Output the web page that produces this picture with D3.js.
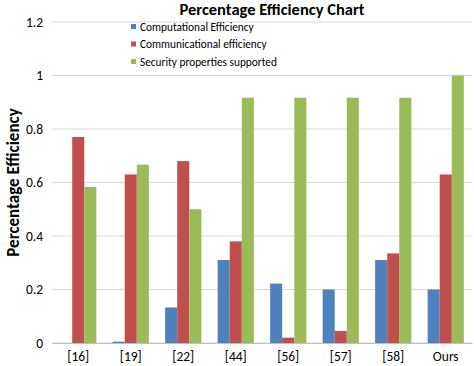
<!DOCTYPE html>
<html><head><meta charset="utf-8">
<script src="https://cdn.jsdelivr.net/npm/d3@7"></script>
<style>body{margin:0;background:#fff}svg{display:block;font-family:Calibri,Carlito,"Open Sans",sans-serif}</style>
</head><body><svg id="c" width="474" height="366"></svg>
<script>
const categories = ["[16]","[19]","[22]","[44]","[56]","[57]","[58]","Ours"];
const seriesNames = ["Computational Efficiency","Communicational efficiency","Security properties supported"];
const computational = [0, 0.005, 0.133, 0.31, 0.222, 0.2, 0.31, 0.2];
const communicational = [0.77, 0.63, 0.68, 0.38, 0.02, 0.045, 0.335, 0.63];
const security = [0.583, 0.667, 0.5, 0.917, 0.917, 0.917, 0.917, 1.0];
const yTicks = [0, 0.2, 0.4, 0.6, 0.8, 1, 1.2];
const colors = ["#4F81BD", "#C0504D", "#9BBB59"];
const seriesValues = [computational, communicational, security];

const svg = d3.select("#c");
const m = {l:52, r:2, t:22, b:23};
const W = 474, H = 366;
const x = d3.scaleBand().domain(categories).range([m.l, W - m.r]).paddingInner(0.31).paddingOuter(0.155);
const xs = d3.scaleBand().domain(d3.range(3)).range([0, x.bandwidth()]);
const y = d3.scaleLinear().domain([0, 1.2]).range([H - m.b, m.t]);

svg.append("g").selectAll("line").data(yTicks).join("line")
  .attr("x1", m.l).attr("x2", W - m.r)
  .attr("y1", d => y(d)).attr("y2", d => y(d))
  .attr("stroke", "#d9d9d9").attr("stroke-width", 1);

const ya = svg.append("g").attr("transform", `translate(${m.l},0)`)
  .call(d3.axisLeft(y).tickValues(yTicks).tickSize(0).tickPadding(9).tickFormat(d => d3.format("")(d)));
ya.select(".domain").remove();
ya.selectAll("text").attr("font-size", 13.5).attr("fill", "#000").attr("font-family", "Calibri,Carlito,'Open Sans',sans-serif");

const groups = svg.append("g").selectAll("g").data(categories).join("g")
  .attr("transform", d => `translate(${x(d)},0)`);
groups.selectAll("rect").data((d, i) => seriesValues.map((s, k) => ({k, v: s[i]}))).join("rect")
  .attr("x", d => xs(d.k)).attr("width", xs.bandwidth())
  .attr("y", d => y(d.v)).attr("height", d => y(0) - y(d.v))
  .attr("fill", d => colors[d.k]);

const xa = svg.append("g").attr("transform", `translate(0,${y(0)})`)
  .call(d3.axisBottom(x).tickSize(0).tickPadding(8));
xa.select(".domain").attr("stroke", "#bfbfbf");
xa.selectAll("text").attr("font-size", 13.5).attr("fill", "#000").attr("font-family", "Calibri,Carlito,'Open Sans',sans-serif");

svg.append("text").attr("x", 272).attr("y", 15).attr("text-anchor", "middle")
  .attr("font-size", 16.5).attr("font-weight", "bold").text("Percentage Efficiency Chart");

svg.append("text").attr("transform", `translate(19,${(y(0)+y(1.2))/2}) rotate(-90)`)
  .attr("text-anchor", "middle").attr("font-size", 17).attr("font-weight", "bold").text("Percentage Efficiency");

const lg = svg.append("g").selectAll("g").data(seriesNames).join("g")
  .attr("transform", (d, i) => `translate(131,${27 + i * 17.5})`);
lg.append("rect").attr("x", 0).attr("y", -3).attr("width", 5).attr("height", 5).attr("fill", (d, i) => colors[i]);
lg.append("text").attr("x", 9).attr("y", 0).attr("dy", "0.35em").attr("font-size", 11.3).text(d => d);
</script></body></html>
